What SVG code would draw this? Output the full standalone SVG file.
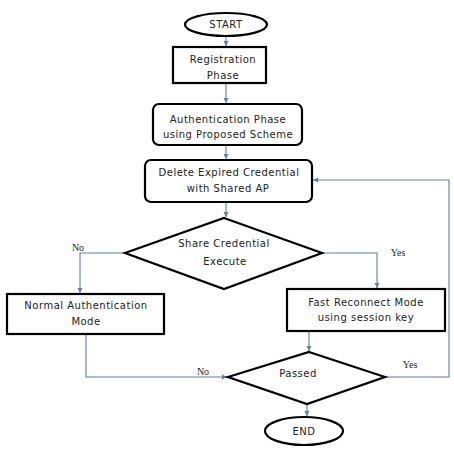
<svg xmlns="http://www.w3.org/2000/svg" width="454" height="454" viewBox="0 0 454 454">
<style>
.n{fill:#fff;stroke:#000;stroke-width:2.2}
.t{font-family:"DejaVu Sans",sans-serif;font-size:10px;letter-spacing:0.5px;fill:#222;text-anchor:middle}
.l{font-family:"Liberation Serif",serif;font-size:10px;fill:#222;text-anchor:middle}
.c{fill:none;stroke:#5b7fa8;stroke-width:1.1}
</style>
<defs>
<marker id="a" markerWidth="6" markerHeight="6" refX="5" refY="3" orient="auto" markerUnits="userSpaceOnUse">
<path d="M0,0.5 L5,3 L0,5.5 Z" fill="#5b7fa8"/>
</marker>
</defs>
<rect width="454" height="454" fill="#fff"/>
<g id="connectors">
<path class="c" d="M226,36 V46" marker-end="url(#a)"/>
<path class="c" d="M226,83 V103" marker-end="url(#a)"/>
<path class="c" d="M226,145 V159" marker-end="url(#a)"/>
<path class="c" d="M226,202 V217" marker-end="url(#a)"/>
<path class="c" d="M125,253 H80 V293" marker-end="url(#a)"/>
<path class="c" d="M322,253 H377 V288" marker-end="url(#a)"/>
<path class="c" d="M86,334 V377 H227" marker-end="url(#a)"/>
<path class="c" d="M309,331 V351" marker-end="url(#a)"/>
<path class="c" d="M385,377 H449 V180 H313" marker-end="url(#a)"/>
<path class="c" d="M307,404 V416" marker-end="url(#a)"/>
<text class="l" x="78" y="251">No</text>
<text class="l" x="398" y="256">Yes</text>
<text class="l" x="203" y="375">No</text>
<text class="l" x="410" y="368">Yes</text>
</g>
<g id="start">
<ellipse class="n" cx="226" cy="24.5" rx="41" ry="11.5" stroke-width="2.5"/>
<text class="t" x="226" y="28">START</text>
</g>
<g id="registration">
<rect class="n" x="173" y="47" width="93" height="36"/>
<text class="t" x="223" y="62.5">Registration</text>
<text class="t" x="223" y="78.5">Phase</text>
</g>
<g id="authentication">
<rect class="n" x="153" y="104" width="149" height="41" rx="6"/>
<text class="t" x="228" y="122.5">Authentication Phase</text>
<text class="t" x="228" y="137.5">using Proposed Scheme</text>
</g>
<g id="delete">
<rect class="n" x="145" y="160" width="167" height="42" rx="6" stroke-width="2.6"/>
<text class="t" x="229" y="175.5">Delete Expired Credential</text>
<text class="t" x="228" y="191.5">with Shared AP</text>
</g>
<g id="share">
<polygon class="n" points="224,218 322,253 224,289 125,253"/>
<text class="t" x="224" y="246.5">Share Credential</text>
<text class="t" x="225" y="265" font-size="9">Execute</text>
</g>
<g id="normal">
<rect class="n" x="7" y="294" width="157" height="40" stroke-width="2.6"/>
<text class="t" x="86" y="308.5" font-size="10.5">Normal Authentication</text>
<text class="t" x="86" y="324.5" font-size="10.5">Mode</text>
</g>
<g id="fast">
<rect class="n" x="287" y="289" width="158" height="42" stroke-width="3"/>
<text class="t" x="366" y="305.5">Fast Reconnect Mode</text>
<text class="t" x="366" y="320.5">using session key</text>
</g>
<g id="passed">
<polygon class="n" points="309,352 385,377 307,404 228,377"/>
<text class="t" x="298" y="376.5">Passed</text>
</g>
<g id="end">
<ellipse class="n" cx="304" cy="431" rx="39" ry="14" stroke-width="2.5"/>
<text class="t" x="304" y="434.5">END</text>
</g>
</svg>
